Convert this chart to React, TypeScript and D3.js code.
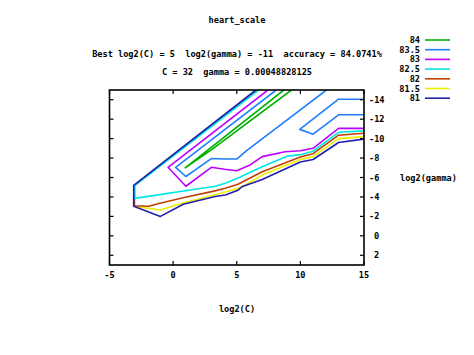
import React from "react";
import * as d3 from "d3";

const title = "heart_scale";
const bestLine1 = "Best log2(C) = 5  log2(gamma) = -11  accuracy = 84.0741%";
const bestLine2 = "C = 32  gamma = 0.00048828125";
const xLabel = "log2(C)";
const yLabel = "log2(gamma)";
const xTicks = [-5, 0, 5, 10, 15];
const yTicks = [-14, -12, -10, -8, -6, -4, -2, 0, 2];
const levels = ["84", "83.5", "83", "82.5", "82", "81.5", "81"];

// contour polylines, [log2(C), log2(gamma)]
const contour84 = [
  [[8.7, -15], [0.95, -7.0], [3.0, -8.85], [9.3, -15]],
];
const contour835 = [
  [[8.1, -15], [0.2, -7.05], [1, -6.1], [3, -7.95], [4.05, -7.9], [5, -7.9], [5.8, -8.8], [12.05, -15]],
  [[15, -14.05], [13, -14.05], [9.95, -10.95], [11, -10.45], [13, -12.45], [15, -12.45]],
];
const contour83 = [
  [[7.45, -15], [-0.4, -7.05], [1, -5.1], [3, -7.05], [4.05, -6.85], [5, -6.7], [6, -7.25], [7, -8.15], [8.8, -8.65], [10, -8.75], [11, -9.0], [13, -11.05], [15, -11.05]],
];
const contour825 = [
  [[6.72, -15], [-3.02, -5.17], [-3.02, -3.85], [3.3, -5.1], [4.1, -5.4], [5.1, -5.95], [7, -7.1], [9, -8.2], [10, -8.35], [11, -8.7], [13, -10.65], [15, -10.8]],
];
const contour82 = [
  [[6.64, -15], [-3.04, -5.18], [-3.04, -3.1], [-1.9, -3.05], [-1.2, -3.3], [0.7, -3.9], [3.2, -4.6], [4.1, -4.9], [5.1, -5.3], [7, -6.6], [10, -8.1], [11, -8.45], [13, -10.35], [15, -10.55]],
];
const contour815 = [
  [[6.57, -15], [-3.06, -5.19], [-3.06, -3.05], [-1, -2.65], [0.7, -3.35], [3.5, -4.3], [5.3, -4.95], [7, -6.25], [10, -7.85], [11, -8.15], [13, -10.0], [15, -10.2]],
];
const contour81 = [
  [[6.5, -15], [-3.1, -5.2], [-3.1, -3.05], [-1, -2.0], [0.8, -3.25], [3.3, -4.05], [4.1, -4.2], [5.1, -4.7], [5.4, -5.05], [7, -5.8], [10, -7.6], [11, -7.85], [13, -9.6], [15, -9.95]],
];

const contours = [contour84, contour835, contour83, contour825, contour82, contour815, contour81];
const colors = ["#00b000", "#1e7fff", "#c000ff", "#00e6e6", "#c04000", "#eeee00", "#2020b0"];

const FONT = "'DejaVu Sans Mono', monospace";

export default function App() {
  const x = d3.scaleLinear().domain([-5, 15]).range([109.5, 364]);
  const y = d3.scaleLinear().domain([-15, 3]).range([90, 265]);
  const line = d3
    .line<number[]>()
    .x((d) => x(d[0]))
    .y((d) => y(d[1]));

  const [x0, x1] = x.range();
  const [y0, y1] = y.range();
  const tl = 4;

  const textStyle: React.CSSProperties = { whiteSpace: "pre" };

  // draw lower levels first so navy sits on the outside
  const order = [5, 4, 3, 2, 1, 0, 6];

  return (
    <svg
      width={474}
      height={355}
      style={{ position: "absolute", left: 0, top: 0, background: "#fff" }}
      fontFamily={FONT}
      fontSize={8.6}
      fontWeight="bold"
    >
      <rect x={0} y={0} width={474} height={355} fill="#fff" />
      <text x={237} y={20} textAnchor="middle" dominantBaseline="central" style={textStyle}>
        {title}
      </text>
      <text x={237} y={54} textAnchor="middle" dominantBaseline="central" style={textStyle}>
        {bestLine1}
      </text>
      <text x={237} y={71.5} textAnchor="middle" dominantBaseline="central" style={textStyle}>
        {bestLine2}
      </text>

      <defs>
        <clipPath id="plotClip">
          <rect x={x0} y={y0} width={x1 - x0} height={y1 - y0} />
        </clipPath>
      </defs>

      <g clipPath="url(#plotClip)">
        {order.map((i) =>
          contours[i].map((p, j) => (
            <path
              key={`${i}-${j}`}
              d={line(p) || ""}
              fill="none"
              stroke={colors[i]}
              strokeWidth={1.6}
              strokeLinejoin="round"
            />
          ))
        )}
      </g>

      <rect x={x0} y={y0} width={x1 - x0} height={y1 - y0} fill="none" stroke="#000" strokeWidth={1.6} />

      {xTicks.map((t) => (
        <g key={`xt${t}`}>
          <line x1={x(t)} x2={x(t)} y1={y1} y2={y1 - tl} stroke="#000" strokeWidth={1.2} />
          <line x1={x(t)} x2={x(t)} y1={y0} y2={y0 + tl} stroke="#000" strokeWidth={1.2} />
          <text x={x(t)} y={275} textAnchor="middle" dominantBaseline="central">
            {t}
          </text>
        </g>
      ))}
      {yTicks.map((t) => (
        <g key={`yt${t}`}>
          <line x1={x0} x2={x0 + tl} y1={y(t)} y2={y(t)} stroke="#000" strokeWidth={1.2} />
          <line x1={x1} x2={x1 - tl} y1={y(t)} y2={y(t)} stroke="#000" strokeWidth={1.2} />
          <text x={t < 0 ? 369 : 374} y={y(t)} textAnchor="start" dominantBaseline="central">
            {t}
          </text>
        </g>
      ))}

      <text x={237} y={309} textAnchor="middle" dominantBaseline="central">
        {xLabel}
      </text>
      <text x={400} y={178} textAnchor="start" dominantBaseline="central">
        {yLabel}
      </text>

      {levels.map((lv, i) => {
        const ly = 40 + i * 9.7;
        return (
          <g key={`lg${lv}`}>
            <text x={420} y={ly} textAnchor="end" dominantBaseline="central">
              {lv}
            </text>
            <line x1={425} x2={450} y1={ly} y2={ly} stroke={colors[i]} strokeWidth={1.6} />
          </g>
        );
      })}
    </svg>
  );
}
